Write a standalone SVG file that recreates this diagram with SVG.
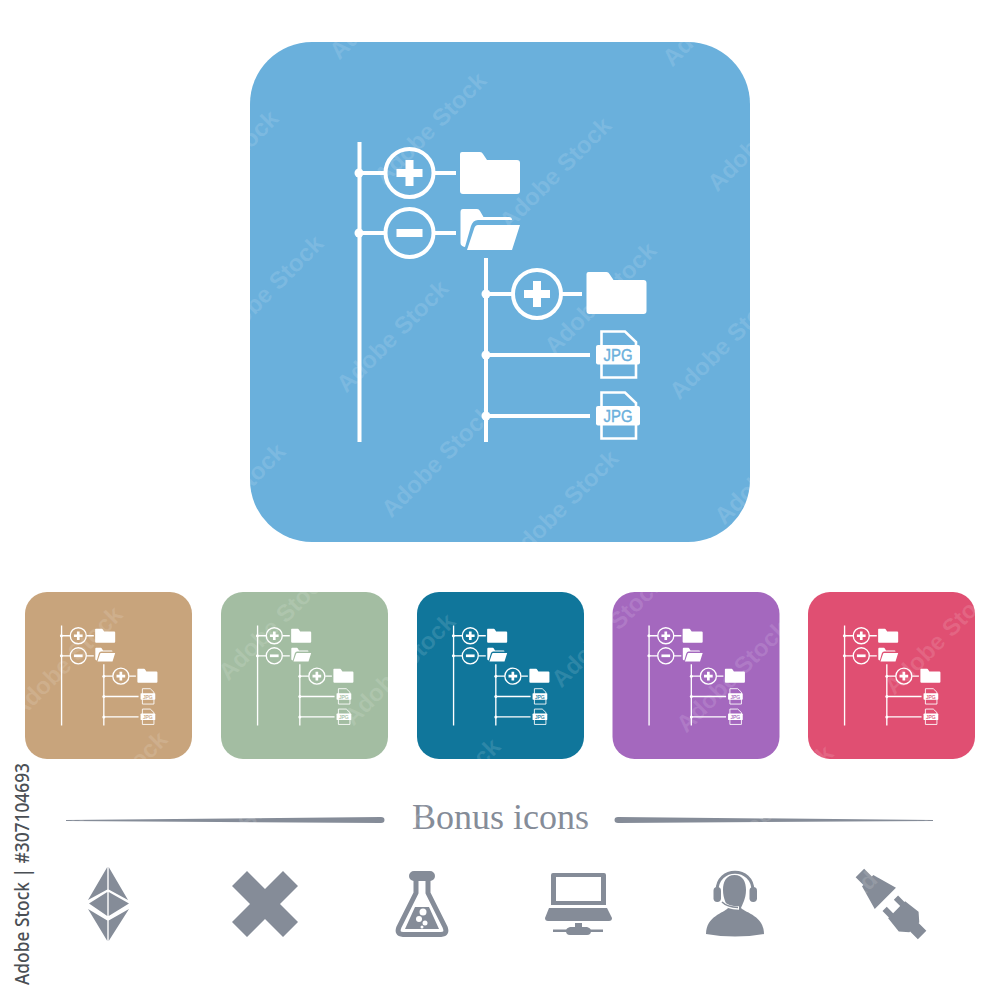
<svg xmlns="http://www.w3.org/2000/svg" width="1000" height="1000" viewBox="0 0 1000 1000">
<style>
.ln{stroke:#fff;stroke-width:4;fill:none}
.wf{fill:#fff}
.g{fill:#858c98}
.wm{font:bold 24px "Liberation Sans",sans-serif;fill:#fff;fill-opacity:.13;stroke:#4d5560;stroke-opacity:.02;stroke-width:4;paint-order:stroke}
.jpg{font:400 17px "Liberation Sans",sans-serif;fill:currentColor;stroke:currentColor;stroke-width:.4;text-anchor:middle}
</style>
<defs>
<text id="w" class="wm" text-anchor="middle" transform="rotate(-45)">Adobe Stock</text>
<path id="folder" class="wf" d="M0 2Q0 0 2 0H20Q22 0 23 2L27 8H57Q60 8 60 11V39Q60 42 57 42H3Q0 42 0 39Z"/>
<g id="plus"><circle r="24" class="ln"/><path class="wf" d="M-4-13H4V-4H13V4H4V13H-4V4H-13V-4H-4Z"/></g>
<g id="minus"><circle r="24" class="ln"/><rect x="-13" y="-4" width="26" height="8" class="wf"/></g>
<g id="file">
<path d="M1.500 1.500H25L36 12V47.500H1.500Z" fill="none" stroke="#fff" stroke-width="2.600"/>
<rect x="-4" y="15" width="44" height="19.500" rx="2" class="wf"/>
<text x="18" y="31" class="jpg" textLength="29" lengthAdjust="spacingAndGlyphs">JPG</text>
</g>
<g id="tree">
<g id="connectors">
<path class="ln" d="M359.500 142V442M359 173H385M434 173H456M359 233H385M434 233H456M486 258V442M486 294H513M562 294H582M486 355H590M486 416H590"/>
<circle cx="359" cy="173" r="4.500" class="wf"/><circle cx="359" cy="233" r="4.500" class="wf"/>
<circle cx="486" cy="294" r="4.500" class="wf"/><circle cx="486" cy="355" r="4.500" class="wf"/><circle cx="486" cy="416" r="4.500" class="wf"/>
</g>
<g id="toggle-plus-1"><use href="#plus" x="409.500" y="173"/></g>
<g id="folder-1"><use href="#folder" x="460" y="152"/></g>
<g id="toggle-minus"><use href="#minus" x="409.500" y="233"/></g>
<g id="folder-open"><path class="wf" d="M460.500 212Q460.500 209 463 209H477Q479 209 480 211L483.500 217H509Q512 217 512 220H478Q473 220 471 226L465 247Q460.500 246 460.500 243Z"/><path class="wf" d="M478 225H520L512 250H467L474 229Q475 225 478 225Z"/></g>
<g id="toggle-plus-2"><use href="#plus" x="537" y="294"/></g>
<g id="folder-2"><use href="#folder" x="586.500" y="272"/></g>
<g id="file-1"><use href="#file" x="600" y="330"/></g>
<g id="file-2"><use href="#file" x="600" y="391"/></g>
</g>
</defs>
<rect width="1000" height="1000" fill="#fff"/>
<g id="tile-main"><rect x="250" y="42" width="500" height="500" rx="62" fill="#6ab0dc"/><use href="#tree" color="#6ab0dc"/></g>
<g id="tile-tan"><rect x="25" y="592" width="167" height="167" rx="22" fill="#c8a47c"/><use href="#tree" color="#c8a47c" transform="translate(25 592) scale(.334) translate(-250 -42)"/></g>
<g id="tile-green"><rect x="221" y="592" width="167" height="167" rx="22" fill="#a3bda2"/><use href="#tree" color="#a3bda2" transform="translate(221 592) scale(.334) translate(-250 -42)"/></g>
<g id="tile-teal"><rect x="417" y="592" width="167" height="167" rx="22" fill="#10769b"/><use href="#tree" color="#10769b" transform="translate(417 592) scale(.334) translate(-250 -42)"/></g>
<g id="tile-purple"><rect x="612.500" y="592" width="167" height="167" rx="22" fill="#a468be"/><use href="#tree" color="#a468be" transform="translate(612.500 592) scale(.334) translate(-250 -42)"/></g>
<g id="tile-pink"><rect x="808" y="592" width="167" height="167" rx="22" fill="#e04f72"/><use href="#tree" color="#e04f72" transform="translate(808 592) scale(.334) translate(-250 -42)"/></g>
<g id="divider">
<path class="g" d="M66 820L381 817Q384.500 817 384.500 820Q384.500 823 381 823L66 821Z"/>
<path class="g" d="M933 820L618 817Q614.500 817 614.500 820Q614.500 823 618 823L933 821Z"/>
<text x="500.500" y="829" text-anchor="middle" font-family="Liberation Serif,serif" font-size="36" fill="#858c98">Bonus icons</text>
</g>
<g id="icon-ethereum" class="g"><path d="M107.300 867V889.500L88 900ZM108.700 867V889.500L128 900ZM107.300 892V916L89 903.500ZM108.700 892V916L129 903.500ZM107.300 920.500V941L88 909ZM108.700 920.500V941L129 909Z"/></g>
<g id="icon-x"><path class="g" d="M247 871L265 889L283 871L298 886L280 904L298 922L283 937L265 919L247 937L232 922L250 904L232 886Z"/></g>
<g id="icon-flask">
<path d="M416 879V893L399 927Q396 934 403 934.500H441Q448 934 445 927L428 893V879" fill="none" stroke="#858c98" stroke-width="5" stroke-linejoin="round"/>
<rect x="411.500" y="873.500" width="21" height="5" rx="2.500" fill="none" stroke="#858c98" stroke-width="5"/>
<path class="g" d="M415 907H429L439 929H405Z"/>
<circle cx="423" cy="912" r="3.500" fill="#fff"/><circle cx="419" cy="919" r="3" fill="#fff"/><circle cx="425" cy="923" r="2.500" fill="#fff"/><circle cx="422" cy="927" r="1.500" fill="#fff"/>
</g>
<g id="icon-laptop">
<path class="g" fill-rule="evenodd" d="M553 873H604Q606 873 606 875V905H551V875Q551 873 553 873ZM556 877V901H601V877Z"/>
<path class="g" d="M549 908H607L612 918Q612 921 609 921H548Q545 921 545 918Z"/>
<path class="g" d="M575 923H582V927H587Q591 928 591 931Q591 935 587 935H570Q566 935 566 931Q566 928 570 927H575Z"/>
<rect x="553" y="929.500" width="50" height="2.500" class="g"/>
</g>
<g id="icon-agent">
<path d="M717 891C717 866 753 866 753 891" fill="none" stroke="#858c98" stroke-width="3"/>
<rect x="713.500" y="887" width="7.500" height="15" rx="3.700" class="g"/><rect x="749.500" y="887" width="7.500" height="15" rx="3.700" class="g"/>
<path class="g" d="M734.500 875C743 875 746 882 746 890C746 899 742 905 741 908C746 913 764 916 764 934Q735 939 706 934C706 916 724 913 728 908C727 905 723 899 723 890C723 882 726 875 734.500 875Z"/>
<path d="M722 902Q727 908 739 908" fill="none" stroke="#fff" stroke-width="3.500"/>
<path d="M722 902Q727 907 738 907.500" fill="none" stroke="#858c98" stroke-width="1.500"/>
</g>
<g id="icon-plug"><path class="g" transform="translate(891 904) rotate(-45)" d="M-6-44H6V-33H8L15-8H-15L-8-33H-6ZM-11-1H-5V8H5V-1H11V8H12L14 25L7 33H6V44H-6V33H-7L-14 25L-12 8H-11Z"/></g>
<text id="stock-id" transform="translate(29 985) rotate(-90)" font-family="Noto Sans,Liberation Sans,sans-serif" font-size="20" font-weight="500" fill="#4a4f55" textLength="222" lengthAdjust="spacingAndGlyphs">Adobe Stock | #307104693</text>
<g id="watermarks">
<use href="#w" x="103" y="127"/><use href="#w" x="266" y="-36"/>
<use href="#w" x="273" y="297"/><use href="#w" x="436" y="134"/><use href="#w" x="599" y="-29"/><use href="#w" x="110" y="460"/>
<use href="#w" x="443" y="467"/><use href="#w" x="606" y="304"/><use href="#w" x="769" y="141"/><use href="#w" x="932" y="-22"/><use href="#w" x="280" y="630"/><use href="#w" x="117" y="793"/><use href="#w" x="-46" y="956"/>
<use href="#w" x="613" y="637"/><use href="#w" x="776" y="474"/><use href="#w" x="939" y="311"/><use href="#w" x="450" y="800"/><use href="#w" x="287" y="963"/>
<use href="#w" x="783" y="807"/><use href="#w" x="946" y="644"/><use href="#w" x="620" y="970"/><use href="#w" x="953" y="977"/>
<use href="#w" x="58" y="2"/><use href="#w" x="228" y="172"/><use href="#w" x="391" y="9"/><use href="#w" x="65" y="335"/>
<use href="#w" x="398" y="342"/><use href="#w" x="561" y="179"/><use href="#w" x="724" y="16"/><use href="#w" x="235" y="505"/><use href="#w" x="72" y="668"/>
<use href="#w" x="568" y="512"/><use href="#w" x="731" y="349"/><use href="#w" x="894" y="186"/><use href="#w" x="405" y="675"/><use href="#w" x="242" y="838"/><use href="#w" x="79" y="1001"/>
<use href="#w" x="738" y="682"/><use href="#w" x="901" y="519"/><use href="#w" x="575" y="845"/><use href="#w" x="412" y="1008"/>
<use href="#w" x="908" y="852"/><use href="#w" x="745" y="1015"/>
</g>
</svg>
